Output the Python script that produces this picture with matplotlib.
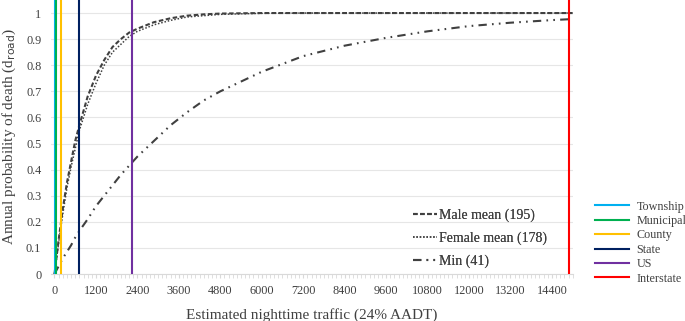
import matplotlib
matplotlib.use("Agg")
import matplotlib.pyplot as plt
from matplotlib.lines import Line2D
from matplotlib.ticker import MultipleLocator

plt.rcParams['font.family'] = ['Liberation Serif', 'DejaVu Serif']

# ---- data ----
traffic = [0, 120, 240, 360, 480, 600, 720, 960, 1200, 1440, 1680, 1920, 2160,
           2400, 2880, 3360, 3840, 4320, 4800, 6000, 7200, 8400, 9600, 10800,
           12000, 13200, 14400, 15000]
male_mean = [0.0, 0.13, 0.25, 0.35, 0.43, 0.51, 0.57, 0.68, 0.76, 0.82, 0.87,
             0.90, 0.925, 0.94, 0.965, 0.98, 0.99, 0.995, 0.998, 1.0, 1.0, 1.0,
             1.0, 1.0, 1.0, 1.0, 1.0, 1.0]
female_mean = [0.0, 0.12, 0.23, 0.33, 0.41, 0.48, 0.55, 0.65, 0.73, 0.80, 0.85,
               0.88, 0.91, 0.93, 0.955, 0.972, 0.985, 0.99, 0.995, 0.999, 1.0,
               1.0, 1.0, 1.0, 1.0, 1.0, 1.0, 1.0]
min_curve = [0.0, 0.03, 0.06, 0.085, 0.11, 0.14, 0.165, 0.21, 0.26, 0.30, 0.34,
             0.38, 0.415, 0.45, 0.51, 0.57, 0.62, 0.665, 0.70, 0.775, 0.835,
             0.875, 0.905, 0.93, 0.95, 0.963, 0.973, 0.977]

road_types = ['Township', 'Municipal', 'County', 'State', 'US', 'Interstate']
road_traffic = [10, 45, 180, 700, 2240, 14880]
road_colors = ['#00B0F0', '#00B050', '#FFC000', '#002060', '#7030A0', '#FF0000']

x_ticks = [0, 1200, 2400, 3600, 4800, 6000, 7200, 8400, 9600, 10800, 12000,
           13200, 14400]
y_ticks = [0, 0.1, 0.2, 0.3, 0.4, 0.5, 0.6, 0.7, 0.8, 0.9, 1]

txt = '#404040'
fig = plt.figure(figsize=(6.85, 3.21), dpi=100)
ax = fig.add_axes([0.0745, 0.1464, 0.7615, 0.8536])

for s in ['top', 'right', 'left']:
    ax.spines[s].set_visible(False)
ax.spines['bottom'].set_color('#D9D9D9')
ax.grid(axis='y', color='#E6E6E6', linewidth=0.8)
ax.set_axisbelow(True)

cl = '#404040'
l1, = ax.plot(traffic, male_mean, color=cl, lw=1.5, linestyle=(0, (2.2, 1.2)),
              label='Male mean (195)')
l2, = ax.plot(traffic, female_mean, color=cl, lw=1.1, linestyle=(0, (1, 1.2)),
              label='Female mean (178)')
l3, = ax.plot(traffic, min_curve, color=cl, lw=1.5,
              linestyle=(0, (4, 2.5, 0.8, 2.5, 0.8, 2.5)), label='Min (41)')

road_handles = []
for name, xv, c in zip(road_types, road_traffic, road_colors):
    ax.axvline(xv, color=c, lw=1.5, zorder=3)
    road_handles.append(Line2D([], [], color=c, lw=1.5, label=name))

ax.set_xlim(-100, 15000)
ax.set_ylim(0, 1.05)
ax.set_xticks(x_ticks)
ax.set_xticklabels([str(v) for v in x_ticks])
ax.xaxis.set_minor_locator(MultipleLocator(120))
ax.set_yticks(y_ticks)
ax.set_yticklabels(['0', '0.1', '0.2', '0.3', '0.4', '0.5', '0.6', '0.7',
                    '0.8', '0.9', '1'])
ax.tick_params(axis='x', which='major', length=3, color='#D9D9D9',
               labelsize=8.8, labelcolor=txt, pad=5)
ax.tick_params(axis='x', which='minor', length=3, color='#D9D9D9')
ax.tick_params(axis='y', length=0, labelsize=8.8, labelcolor=txt, pad=7)

ax.set_xlabel('Estimated nighttime traffic (24% AADT)', fontsize=11,
              color=txt, labelpad=8)
ax.set_ylabel('Annual probability of death (d$_{\\mathrm{road}}$)', fontsize=11,
              color=txt, labelpad=6)

leg1 = ax.legend(handles=[l1, l2, l3], loc='lower right',
                 bbox_to_anchor=(0.975, -0.025), frameon=False, fontsize=10,
                 handlelength=1.7, handletextpad=0.15, labelspacing=0.7,
                 labelcolor=txt)
ax.add_artist(leg1)

fig.legend(handles=road_handles, loc='upper left',
           bbox_to_anchor=(0.862, 0.39), frameon=False, fontsize=8.7,
           handlelength=2.75, handletextpad=0.65, labelspacing=0.2,
           labelcolor=txt, borderaxespad=0)

fig.savefig('out.png', dpi=100)
